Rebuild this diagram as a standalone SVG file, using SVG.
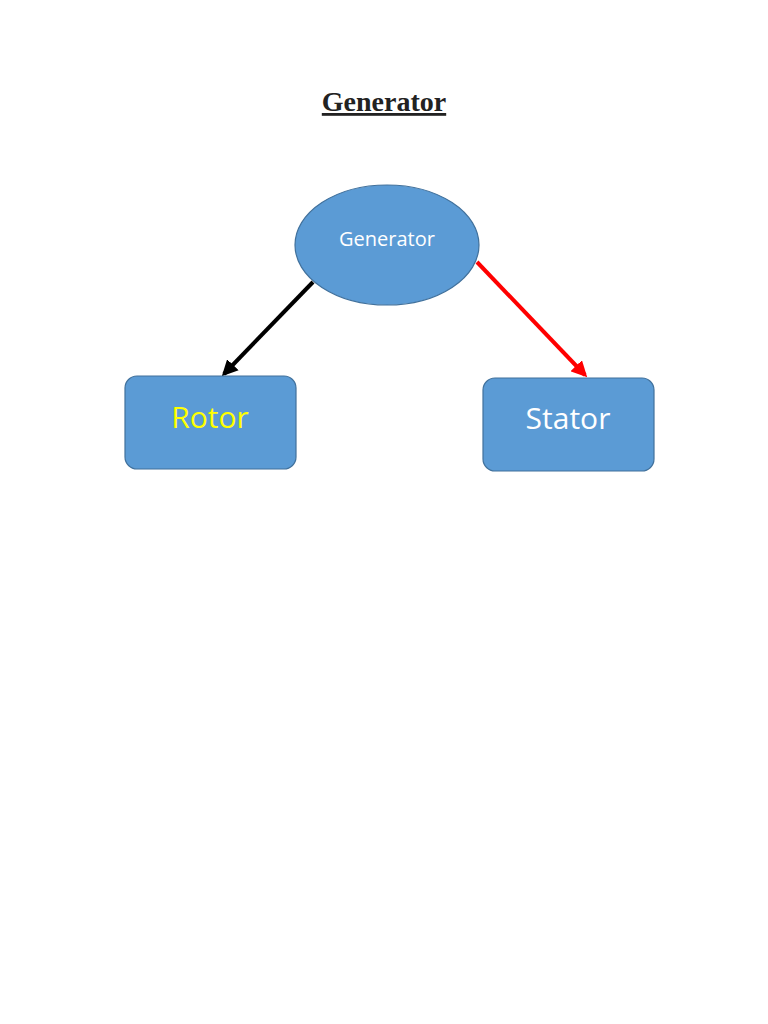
<svg xmlns="http://www.w3.org/2000/svg" width="768" height="1024" viewBox="0 0 768 1024">
<style>
.n{fill:#5b9bd5;stroke:#41719c;stroke-width:1.2}
.t{font-family:"Open Sans","Noto Sans",sans-serif;text-anchor:middle}
</style>
<defs>
<marker id="ab" viewBox="0 0 10 10" refX="8" refY="5" markerWidth="4" markerHeight="4" orient="auto"><path d="M0,0L10,5L0,10z" fill="#000"/></marker>
<marker id="ar" viewBox="0 0 10 10" refX="8" refY="5" markerWidth="4" markerHeight="4" orient="auto"><path d="M0,0L10,5L0,10z" fill="#f00"/></marker>
</defs>
<rect width="768" height="1024" fill="#fff"/>
<text x="384" y="111" font-family="Liberation Serif,serif" font-weight="bold" font-size="28" text-anchor="middle" fill="#222" text-decoration="underline">Generator</text>
<g id="connectors">
<line x1="313" y1="282" x2="224" y2="374" stroke="#000" stroke-width="4" marker-end="url(#ab)"/>
<line x1="477" y1="262" x2="585" y2="375" stroke="#f00" stroke-width="4" marker-end="url(#ar)"/>
</g>
<g id="generator"><ellipse class="n" cx="387" cy="245" rx="92" ry="60"/><text class="t" x="387" y="246" font-size="20" fill="#fff">Generator</text></g>
<g id="rotor"><rect class="n" x="125" y="376" width="171" height="93" rx="12"/><text class="t" x="210" y="428" font-size="30" fill="#ffff00">Rotor</text></g>
<g id="stator"><rect class="n" x="483" y="378" width="171" height="93" rx="12"/><text class="t" x="568" y="429" font-size="30" fill="#fff">Stator</text></g>
</svg>
